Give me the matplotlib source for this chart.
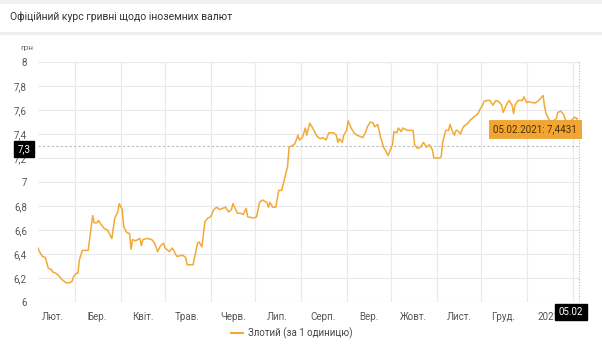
import matplotlib
matplotlib.use("Agg")
import matplotlib.pyplot as plt
import matplotlib.dates as mdates
from matplotlib.patches import Rectangle
import numpy as np

plt.rcParams['font.family'] = ['Roboto', 'DejaVu Sans']

# -----------------------------
# DATA
# -----------------------------
start_date = np.datetime64("2020-02-05")

# days since start_date
days = [0, 1, 3, 5, 7, 9, 10, 12, 14, 16, 17, 19, 21, 23, 24, 26, 27, 28, 30, 32,
        34, 37, 38, 40, 41, 43, 45, 47, 50, 52, 54, 55, 57, 58, 60, 62, 63, 64, 66, 69,
        70, 71, 74, 77, 79, 81, 83, 85, 86, 89, 91, 94, 98, 100, 101, 105, 108, 109, 111, 113,
        115, 117, 119, 121, 123, 125, 127, 129, 131, 132, 135, 137, 139, 141, 142, 146, 148, 150, 152, 155,
        156, 157, 159, 161, 163, 165, 169, 170, 173, 174, 176, 177, 179, 181, 182, 184, 186, 189, 191, 193,
        195, 197, 200, 202, 203, 204, 206, 207, 209, 210, 212, 214, 216, 218, 220, 222, 223, 225, 227, 228,
        230, 231, 232, 234, 235, 237, 239, 240, 241, 243, 244, 246, 247, 250, 252, 254, 255, 257, 259, 261,
        263, 265, 267, 268, 272, 273, 274, 275, 276, 278, 279, 281, 282, 283, 284, 286, 288, 291, 293, 295,
        298, 299, 301, 302, 304, 306, 308, 310, 312, 314, 315, 317, 319, 321, 322, 323, 325, 328, 329, 331,
        332, 335, 337, 339, 342, 343, 344, 346, 348, 351, 352, 354, 356, 357, 359, 362, 363, 365, 366]

rate = [6.45, 6.42, 6.38, 6.37, 6.28, 6.27, 6.25, 6.24, 6.22, 6.19, 6.18, 6.16, 6.16, 6.17, 6.21, 6.24, 6.24, 6.35, 6.43, 6.43,
        6.43, 6.72, 6.66, 6.66, 6.68, 6.64, 6.61, 6.60, 6.53, 6.70, 6.75, 6.82, 6.77, 6.63, 6.58, 6.57, 6.44, 6.52, 6.51, 6.53,
        6.47, 6.52, 6.53, 6.52, 6.49, 6.42, 6.47, 6.49, 6.45, 6.42, 6.45, 6.38, 6.39, 6.37, 6.31, 6.31, 6.49, 6.50, 6.46, 6.67,
        6.70, 6.71, 6.77, 6.79, 6.77, 6.78, 6.79, 6.75, 6.77, 6.82, 6.74, 6.74, 6.73, 6.78, 6.71, 6.70, 6.71, 6.83, 6.85, 6.83,
        6.79, 6.83, 6.79, 6.79, 6.93, 6.93, 7.13, 7.29, 7.31, 7.32, 7.39, 7.35, 7.37, 7.45, 7.39, 7.49, 7.45, 7.38, 7.36, 7.37,
        7.35, 7.41, 7.41, 7.39, 7.33, 7.36, 7.33, 7.39, 7.43, 7.51, 7.45, 7.41, 7.39, 7.38, 7.37, 7.42, 7.46, 7.50, 7.49, 7.46,
        7.48, 7.43, 7.37, 7.29, 7.27, 7.22, 7.28, 7.31, 7.42, 7.41, 7.45, 7.42, 7.45, 7.43, 7.43, 7.43, 7.31, 7.28, 7.29, 7.33,
        7.29, 7.31, 7.27, 7.20, 7.20, 7.21, 7.33, 7.38, 7.43, 7.43, 7.48, 7.41, 7.39, 7.43, 7.43, 7.40, 7.46, 7.49, 7.52, 7.54,
        7.57, 7.60, 7.64, 7.67, 7.68, 7.68, 7.64, 7.68, 7.67, 7.64, 7.58, 7.64, 7.68, 7.64, 7.57, 7.64, 7.68, 7.68, 7.71, 7.66,
        7.67, 7.66, 7.66, 7.68, 7.72, 7.63, 7.57, 7.52, 7.50, 7.53, 7.58, 7.59, 7.56, 7.52, 7.50, 7.52, 7.54, 7.53, 7.4431]

month_labels = ["Лют.", "Бер.", "Квіт.", "Трав.", "Черв.", "Лип.", "Серп.",
                "Вер.", "Жовт.", "Лист.", "Груд.", "2021"]
month_starts = ["2020-03-01", "2020-04-01", "2020-05-01", "2020-06-01", "2020-07-01",
                "2020-08-01", "2020-09-01", "2020-10-01", "2020-11-01", "2020-12-01",
                "2021-01-01", "2021-02-01"]
label_dates = ["2020-02-15", "2020-03-16", "2020-04-16", "2020-05-16", "2020-06-16",
               "2020-07-16", "2020-08-16", "2020-09-16", "2020-10-16", "2020-11-16",
               "2020-12-16", "2021-01-16"]

y_ticks = [6, 6.2, 6.4, 6.6, 6.8, 7, 7.2, 7.4, 7.6, 7.8, 8]
cursor_value = 7.3
series_name = "Злотий (за 1 одиницю)"
title = "Офіційний курс гривні щодо іноземних валют"

# -----------------------------
# PLOT
# -----------------------------
dates = start_date + np.array(days).astype("timedelta64[D]")
line_color = "#f2aa35"
grid_color = "#e9e9e9"

fig = plt.figure(figsize=(6.02, 3.5), dpi=100)
ax = fig.add_axes([38 / 602, 1 - 302 / 350, 542 / 602, 240 / 350])

ax.plot(dates, rate, color=line_color, lw=1.1, zorder=3)

ax.set_ylim(6, 8)
ax.set_xlim(start_date, start_date + np.timedelta64(367, "D"))

ax.set_yticks(y_ticks)
ax.set_yticklabels([("%g" % v).replace(".", ",") for v in y_ticks])

ax.set_xticks(np.array(month_starts, dtype="datetime64[D]"))
ax.set_xticklabels([])
ax.set_xticks(np.array(label_dates, dtype="datetime64[D]"), minor=True)
ax.set_xticklabels(month_labels, minor=True)

ax.grid(True, which="major", color=grid_color, lw=0.8)
ax.tick_params(which="both", length=0, labelsize=7, colors="#555555")
ax.tick_params(axis="y", pad=8)
ax.tick_params(axis="x", which="minor", pad=7)
for s in ax.spines.values():
    s.set_visible(False)

# crosshair
ax.axhline(cursor_value, color="#bbbbbb", lw=0.8, ls=(0, (2, 2)), zorder=2)
ax.axvline(dates[-1], color="#bbbbbb", lw=0.8, ls=(0, (1, 1.5)), zorder=2)

# tooltip and cursor labels
fig.text(535 / 602, 1 - 129 / 350,
         "%s: %s" % (str(dates[-1].astype(object).strftime("%d.%m.%Y")), ("%g" % rate[-1]).replace(".", ",")),
         ha="center", va="center", fontsize=7, color="#4a3000",
         bbox=dict(boxstyle="square,pad=0.45", fc="#f3a533", ec="#e89a20", lw=0.5), zorder=5)
fig.text(24 / 602, 1 - 149 / 350, ("%g" % cursor_value).replace(".", ","),
         ha="center", va="center", fontsize=7, color="white",
         bbox=dict(boxstyle="square,pad=0.35", fc="black", ec="black"), zorder=5)
fig.text(571 / 602, 1 - 312 / 350, dates[-1].astype(object).strftime("%d.%m"),
         ha="center", va="center", fontsize=7, color="white",
         bbox=dict(boxstyle="square,pad=0.35", fc="black", ec="black"), zorder=5)

# header
fig.text(10 / 602, 1 - 17 / 350, title, ha="left", va="center", fontsize=7.5, color="#333333")
fig.patches.append(Rectangle((0, 1 - 35 / 350), 1, 3 / 350, transform=fig.transFigure,
                             fc="#eeeeee", ec="none"))
fig.patches.append(Rectangle((0, 1 - 4 / 350), 1, 4 / 350, transform=fig.transFigure,
                             fc="#f0f0f0", ec="none"))
fig.text(20 / 602, 1 - 48 / 350, "грн", ha="left", va="center", fontsize=6, color="#666666")

# legend
ax.legend([series_name], loc="center", bbox_to_anchor=(292 / 602, 1 - 333 / 350),
          bbox_transform=fig.transFigure, frameon=False, fontsize=7, handlelength=1.2,
          handletextpad=0.5, labelcolor="#444444")
leg = ax.get_legend()
leg.get_lines()[0].set_linewidth(1.5)

fig.savefig("out.png", dpi=100)
